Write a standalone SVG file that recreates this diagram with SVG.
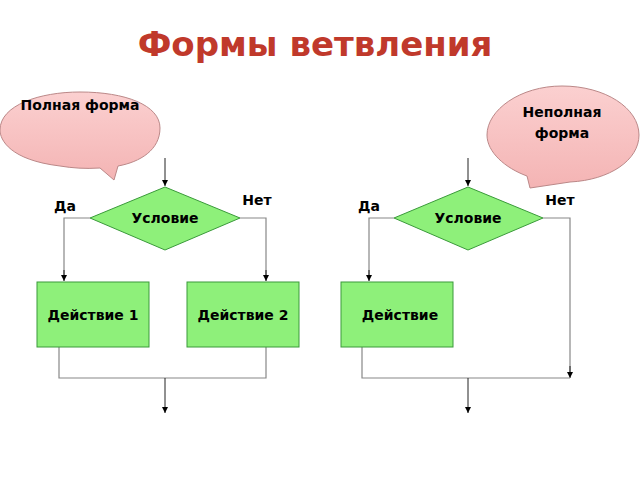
<svg xmlns="http://www.w3.org/2000/svg" width="640" height="480" viewBox="0 0 640 480">
<defs>
<marker id="a" markerWidth="8" markerHeight="8" refX="6" refY="3" orient="auto" markerUnits="userSpaceOnUse"><path d="M0,0 L6,3 L0,6 z" fill="#000"/></marker>
<linearGradient id="pk" x1="0" y1="0" x2="0" y2="1"><stop offset="0" stop-color="#fbd0d0"/><stop offset="1" stop-color="#f4b4b4"/></linearGradient>
</defs>
<style>
text{font-family:"DejaVu Sans",sans-serif;font-weight:bold;font-size:14px;fill:#000}
.g{fill:#8ef07a;stroke:#3a9a3a;stroke-width:1}
.c{fill:none;stroke:#888;stroke-width:1.2}
.ar{fill:none;stroke:#222;stroke-width:1;marker-end:url(#a)}
.b{fill:url(#pk);stroke:#b88;stroke-width:1}
</style>
<rect width="640" height="480" fill="#fff"/>
<text x="315" y="56" text-anchor="middle" style="font-size:34px;fill:#c0392b;font-family:'DejaVu Sans',sans-serif">Формы ветвления</text>
<g id="bubble1"><path class="b" d="M60,166 C10,160 0,140 0,130 C0,105 40,92 80,92 C125,92 160,105 160,128 C160,150 140,162 118,166 L114,180 L100,168 C85,169 72,168 60,166 z"/><text x="80" y="110" text-anchor="middle">Полная форма</text></g>
<g id="bubble2"><path class="b" d="M487,135 C487,110 520,86 562,86 C605,86 639,108 639,135 C639,160 610,180 570,182 L530,188 L527,176 C505,168 487,152 487,135 z"/><text x="562" y="117" text-anchor="middle">Неполная</text><text x="562" y="138" text-anchor="middle">форма</text></g>
<g id="connectors">
<path class="ar" d="M165,158 V186"/>
<path class="c" d="M90,218 H64 V276"/><path class="ar" d="M64,270 V281"/>
<path class="c" d="M240,218 H266 V276"/><path class="ar" d="M266,270 V281"/>
<path class="c" d="M59,347 V378 H266 V347"/>
<path class="ar" d="M165,378 V413"/>
<path class="ar" d="M468,158 V186"/>
<path class="c" d="M394,218 H369 V276"/><path class="ar" d="M369,270 V281"/>
<path class="c" d="M543,218 H570 V372"/><path class="ar" d="M570,366 V378"/>
<path class="c" d="M362,347 V378 H570"/>
<path class="ar" d="M468,378 V413"/>
</g>
<g id="cond1"><polygon class="g" points="90,218 165,187 240,218 165,250"/><text x="165" y="223" text-anchor="middle">Условие</text></g>
<g id="cond2"><polygon class="g" points="394,218 468,187 543,218 468,250"/><text x="468" y="223" text-anchor="middle">Условие</text></g>
<text x="65" y="211" text-anchor="middle">Да</text><text x="257" y="205" text-anchor="middle">Нет</text>
<text x="369" y="211" text-anchor="middle">Да</text><text x="560" y="205" text-anchor="middle">Нет</text>
<g id="act1"><rect class="g" x="37" y="282" width="112" height="65"/><text x="93" y="320" text-anchor="middle">Действие 1</text></g>
<g id="act2"><rect class="g" x="187" y="282" width="112" height="65"/><text x="243" y="320" text-anchor="middle">Действие 2</text></g>
<g id="act3"><rect class="g" x="341" y="282" width="112" height="65"/><text x="400" y="320" text-anchor="middle">Действие</text></g>
</svg>
